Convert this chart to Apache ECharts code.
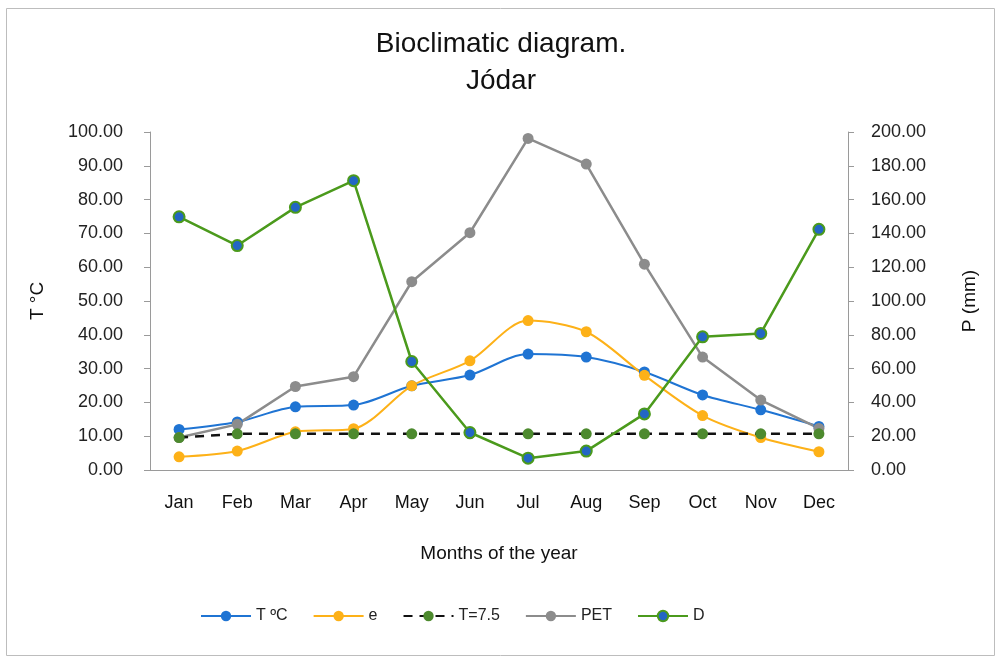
<!DOCTYPE html>
<html>
<head>
<meta charset="utf-8">
<style>
  html, body { margin: 0; padding: 0; background: #fff; }
  #chart { width: 1002px; height: 664px; }
</style>
<script src="https://cdn.jsdelivr.net/npm/echarts@6/dist/echarts.min.js"></script>
</head>
<body>
<div id="chart"></div>
<script>
// data (left axis units)
const months = ['Jan', 'Feb', 'Mar', 'Apr', 'May', 'Jun', 'Jul', 'Aug', 'Sep', 'Oct', 'Nov', 'Dec']
const tempC = [12.0, 14.2, 18.7, 19.2, 24.9, 28.1, 34.3, 33.4, 29.0, 22.2, 17.8, 12.9]
const eVals = [3.9, 5.6, 11.3, 12.2, 24.9, 32.3, 44.2, 40.9, 28.0, 16.1, 9.6, 5.4]
const t75 = [9.6, 10.7, 10.7, 10.7, 10.7, 10.7, 10.7, 10.7, 10.7, 10.7, 10.7, 10.7]
const pet = [9.6, 13.5, 24.7, 27.6, 55.7, 70.2, 98.1, 90.5, 60.9, 33.4, 20.7, 12.3]
const dVals = [74.9, 66.4, 77.7, 85.6, 32.1, 11.1, 3.5, 5.6, 16.6, 39.4, 40.4, 71.2]

const font = 'Liberation Sans, Arial, sans-serif'
const axisGray = '#9a9a9a'

const chart = echarts.init(document.getElementById('chart'))

chart.setOption({
  textStyle: { fontFamily: font },
  graphic: [{
    type: 'rect',
    shape: { x: 6.5, y: 8.5, width: 988, height: 647 },
    style: { fill: 'none', stroke: '#bdbdbd', lineWidth: 1 },
    silent: true
  }],
  title: {
    text: 'Bioclimatic diagram.\nJódar',
    left: 'center',
    top: 21,
    textStyle: {
      color: '#111',
      fontSize: 28,
      fontWeight: 'normal',
      lineHeight: 37,
      fontFamily: font
    }
  },
  legend: {
    bottom: 35,
    left: 195,
    itemWidth: 50,
    itemHeight: 13,
    itemGap: 25,
    textStyle: { fontSize: 16, color: '#222', fontFamily: font },
    data: ['T ºC', 'e', 'T=7.5', 'PET', 'D']
  },
  grid: {
    left: 150,
    right: 154,
    top: 132,
    bottom: 194
  },
  xAxis: {
    type: 'category',
    data: months,
    name: 'Months of the year',
    nameLocation: 'middle',
    nameGap: 74,
    nameTextStyle: { fontSize: 19, color: '#111' },
    axisLine: { lineStyle: { color: axisGray } },
    axisTick: { show: false },
    axisLabel: { fontSize: 18, color: '#111', margin: 24 }
  },
  yAxis: [{
    type: 'value',
    min: 0,
    max: 100,
    interval: 10,
    name: 'T °C',
    nameLocation: 'middle',
    nameGap: 103,
    nameTextStyle: { fontSize: 19, color: '#111' },
    splitLine: { show: false },
    axisLine: { show: true, lineStyle: { color: axisGray } },
    axisTick: { show: true, length: 6, lineStyle: { color: axisGray } },
    axisLabel: {
      fontSize: 18,
      color: '#222',
      margin: 27,
      formatter: v => v.toFixed(2)
    }
  }, {
    type: 'value',
    min: 0,
    max: 200,
    interval: 20,
    name: 'P (mm)',
    nameLocation: 'middle',
    nameGap: 112,
    nameRotate: 90,
    nameTextStyle: { fontSize: 19, color: '#111' },
    splitLine: { show: false },
    axisLine: { show: true, lineStyle: { color: axisGray } },
    axisTick: { show: true, length: 6, lineStyle: { color: axisGray } },
    axisLabel: {
      fontSize: 18,
      color: '#222',
      margin: 23,
      formatter: v => v.toFixed(2)
    }
  }],
  series: [{
    name: 'T ºC',
    type: 'line',
    data: tempC,
    smooth: 0.3,
    symbol: 'circle',
    symbolSize: 11,
    lineStyle: { color: '#1f74d3', width: 2 },
    itemStyle: { color: '#1f74d3' }
  }, {
    name: 'e',
    type: 'line',
    data: eVals,
    smooth: 0.3,
    symbol: 'circle',
    symbolSize: 11,
    lineStyle: { color: '#fdb118', width: 2 },
    itemStyle: { color: '#fdb118' }
  }, {
    name: 'T=7.5',
    type: 'line',
    z: 4,
    data: t75,
    symbol: 'circle',
    symbolSize: 11,
    lineStyle: { color: '#111', width: 2.5, type: [9, 7] },
    itemStyle: { color: '#4d8a2e' }
  }, {
    name: 'PET',
    type: 'line',
    z: 3,
    data: pet,
    symbol: 'circle',
    symbolSize: 11,
    lineStyle: { color: '#8c8c8c', width: 2.5 },
    itemStyle: { color: '#8c8c8c' }
  }, {
    name: 'D',
    type: 'line',
    z: 5,
    data: dVals,
    symbol: 'circle',
    symbolSize: 11,
    lineStyle: { color: '#4b9a1c', width: 2.5 },
    itemStyle: { color: '#2366c4', borderColor: '#4b9a1c', borderWidth: 2 }
  }]
})
</script>
</body>
</html>
